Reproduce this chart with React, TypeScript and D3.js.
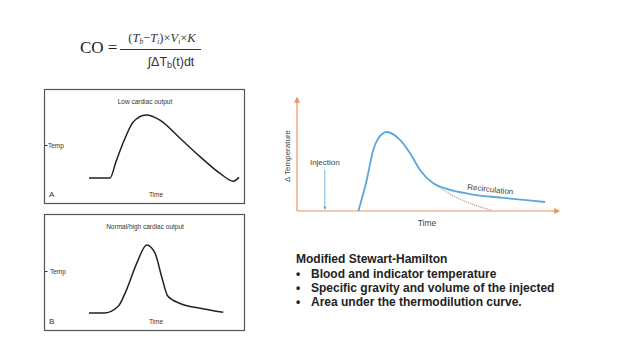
import React from "react";
import * as d3 from "d3";

// Panel A: low cardiac output (time units, relative temperature)
const timeA = [0, 14, 18, 24, 29.5, 38, 47.3, 60.7, 74, 87.3, 96.2, 100];
const tempA = [0, 0, 0.26, 0.63, 0.89, 1.0, 0.92, 0.63, 0.34, 0.075, -0.05, 0.01];

// Panel B: normal/high cardiac output
const timeB = [0, 10, 19.5, 25, 31.8, 38.5, 44, 48.5, 52.5, 60.7, 74, 89.5];
const tempB = [0, 0, 0.1, 0.34, 0.73, 1.0, 0.88, 0.53, 0.25, 0.14, 0.07, 0.01];

// Right: thermodilution curve with recirculation
const timeC = [23.6, 26.8, 29.3, 31.3, 34.5, 39.6, 43.5, 47.3, 52.4, 57.6, 66.5, 79.6, 95.4];
const tempC = [0, 0.39, 0.77, 0.92, 1.0, 0.9, 0.73, 0.52, 0.35, 0.28, 0.215, 0.165, 0.114];
// extrapolated decay without recirculation (dotted)
const timeD = [52.4, 61.4, 69.1, 74.9];
const tempD = [0.35, 0.17, 0.066, 0.01];
const injectionTime = 10.7;

const panelTitles = ["Low cardiac output", "Normal/high cardiac output"];
const panelLetters = ["A", "B"];
const bullets = [
  "Blood and indicator temperature",
  "Specific gravity and volume of the injected",
  "Area under the thermodilution curve.",
];

const SANS = "'Liberation Sans', Arial, sans-serif";
const SERIF = "'Liberation Serif', 'Times New Roman', serif";

function zip(t: number[], v: number[]) {
  return t.map((x, i) => [x, v[i]] as [number, number]);
}

export default function App() {
  const xA = d3.scaleLinear().domain([0, 100]).range([89, 239]);
  const yA = d3.scaleLinear().domain([0, 1]).range([178, 115]);
  const xB = d3.scaleLinear().domain([0, 100]).range([89, 239]);
  const yB = d3.scaleLinear().domain([0, 1]).range([313, 245]);
  const xC = d3.scaleLinear().domain([0, 100]).range([297, 557]);
  const yC = d3.scaleLinear().domain([0, 1]).range([211, 132]);

  const mk = (xs: d3.ScaleLinear<number, number>, ys: d3.ScaleLinear<number, number>) =>
    d3
      .line<[number, number]>()
      .x((d) => xs(d[0]))
      .y((d) => ys(d[1]))
      .curve(d3.curveMonotoneX);
  const lineA = mk(xA, yA);
  const lineB = mk(xB, yB);
  const lineC = mk(xC, yC);

  const orange = "#e8955c";
  const blue = "#5ba6dd";

  const panels = [
    { top: 89, bottom: 203, path: lineA(zip(timeA, tempA)), tempY: 145.5, tempX: 48 },
    { top: 214, bottom: 330, path: lineB(zip(timeB, tempB)), tempY: 271.5, tempX: 50 },
  ];

  return (
    <svg
      width={638}
      height={359}
      style={{ position: "absolute", left: 0, top: 0, background: "#fff" }}
    >
      <defs>
        <marker id="arrO" viewBox="0 0 10 10" refX="8" refY="5" markerWidth="5" markerHeight="5" orient="auto">
          <path d="M0,0 L10,5 L0,10 z" fill={orange} />
        </marker>
        <marker id="arrB" viewBox="0 0 10 10" refX="8" refY="5" markerWidth="4" markerHeight="4" orient="auto">
          <path d="M0,0 L10,5 L0,10 z" fill={blue} />
        </marker>
      </defs>

      {/* Formula */}
      <text x={80} y={53} fontFamily={SERIF} fontSize={17} fill="#222">
        CO =
      </text>
      <text x={162} y={42} fontFamily={SERIF} fontSize={12.5} fill="#333" textAnchor="middle">
        <tspan>(</tspan>
        <tspan fontStyle="italic">T</tspan>
        <tspan fontSize={7.5} dy={2} fontStyle="italic">b</tspan>
        <tspan dy={-2}>−</tspan>
        <tspan fontStyle="italic">T</tspan>
        <tspan fontSize={7.5} dy={2} fontStyle="italic">i</tspan>
        <tspan dy={-2}>)×</tspan>
        <tspan fontStyle="italic">V</tspan>
        <tspan fontSize={7.5} dy={2} fontStyle="italic">i</tspan>
        <tspan dy={-2}>×</tspan>
        <tspan fontStyle="italic">K</tspan>
      </text>
      <line x1={120} x2={201} y1={49.5} y2={49.5} stroke="#333" strokeWidth={1} />
      <text x={171} y={66} fontFamily={SANS} fontSize={12.5} fill="#333" textAnchor="middle">
        <tspan>∫ΔT</tspan>
        <tspan fontSize={9} dy={2}>b</tspan>
        <tspan dy={-2}>(t)dt</tspan>
      </text>

      {/* Left panels */}
      {panels.map((p, i) => (
        <g key={i}>
          <rect x={44.5} y={p.top + 0.5} width={200} height={p.bottom - p.top} fill="none" stroke="#555" strokeWidth={1.2} />
          <text x={145} y={p.top + 15} fontFamily={SANS} fontSize={6.5} fill="#333" textAnchor="middle">
            {panelTitles[i]}
          </text>
          <line x1={45} x2={47.5} y1={p.tempY} y2={p.tempY} stroke="#333" strokeWidth={1} />
          <text x={p.tempX} y={p.tempY + 2.2} fontFamily={SANS} fontSize={6.5} fill="#333">
            Temp
          </text>
          <text x={49} y={p.bottom - 6} fontFamily={SANS} fontSize={8} fill="#333">
            {panelLetters[i]}
          </text>
          <text x={156} y={p.bottom - 6} fontFamily={SANS} fontSize={6.5} fill="#333" textAnchor="middle">
            Time
          </text>
          <path d={p.path || ""} fill="none" stroke="#222" strokeWidth={1.5} />
        </g>
      ))}

      {/* Right chart */}
      <line x1={xC(0)} x2={xC(0)} y1={yC(0)} y2={98} stroke={orange} strokeWidth={1.2} markerEnd="url(#arrO)" />
      <line x1={xC(0)} x2={559} y1={yC(0)} y2={yC(0)} stroke={orange} strokeWidth={1.2} markerEnd="url(#arrO)" />
      <text
        transform={`translate(290,156) rotate(-90)`}
        fontFamily={SANS}
        fontSize={8}
        fill="#444"
        textAnchor="middle"
      >
        Δ Temperature
      </text>
      <text x={427} y={226} fontFamily={SANS} fontSize={8.5} fill="#444" textAnchor="middle">
        Time
      </text>
      <text x={xC(injectionTime)} y={165} fontFamily={SANS} fontSize={8} fill="#444" textAnchor="middle">
        Injection
      </text>
      <line x1={xC(injectionTime)} x2={xC(injectionTime)} y1={170} y2={209} stroke={blue} strokeWidth={0.8} markerEnd="url(#arrB)" />
      <path d={lineC(zip(timeD, tempD)) || ""} fill="none" stroke="#8a8a8a" strokeWidth={1} strokeDasharray="1.2,1" />
      <path d={lineC(zip(timeC, tempC)) || ""} fill="none" stroke={blue} strokeWidth={1.8} />
      <text
        transform={`translate(490,192) rotate(6.5)`}
        fontFamily={SANS}
        fontSize={8}
        fill="#444"
        textAnchor="middle"
      >
        Recirculation
      </text>

      {/* Text block */}
      <text x={296} y={263} fontFamily={SANS} fontSize={12} fontWeight="bold" fill="#222">
        Modified Stewart-Hamilton
      </text>
      {bullets.map((b, i) => (
        <g key={b}>
          <text x={296} y={277.7 + i * 14.2} fontFamily={SANS} fontSize={12} fontWeight="bold" fill="#222">
            •
          </text>
          <text x={311} y={277.7 + i * 14.2} fontFamily={SANS} fontSize={12} fontWeight="bold" fill="#222">
            {b}
          </text>
        </g>
      ))}
    </svg>
  );
}
